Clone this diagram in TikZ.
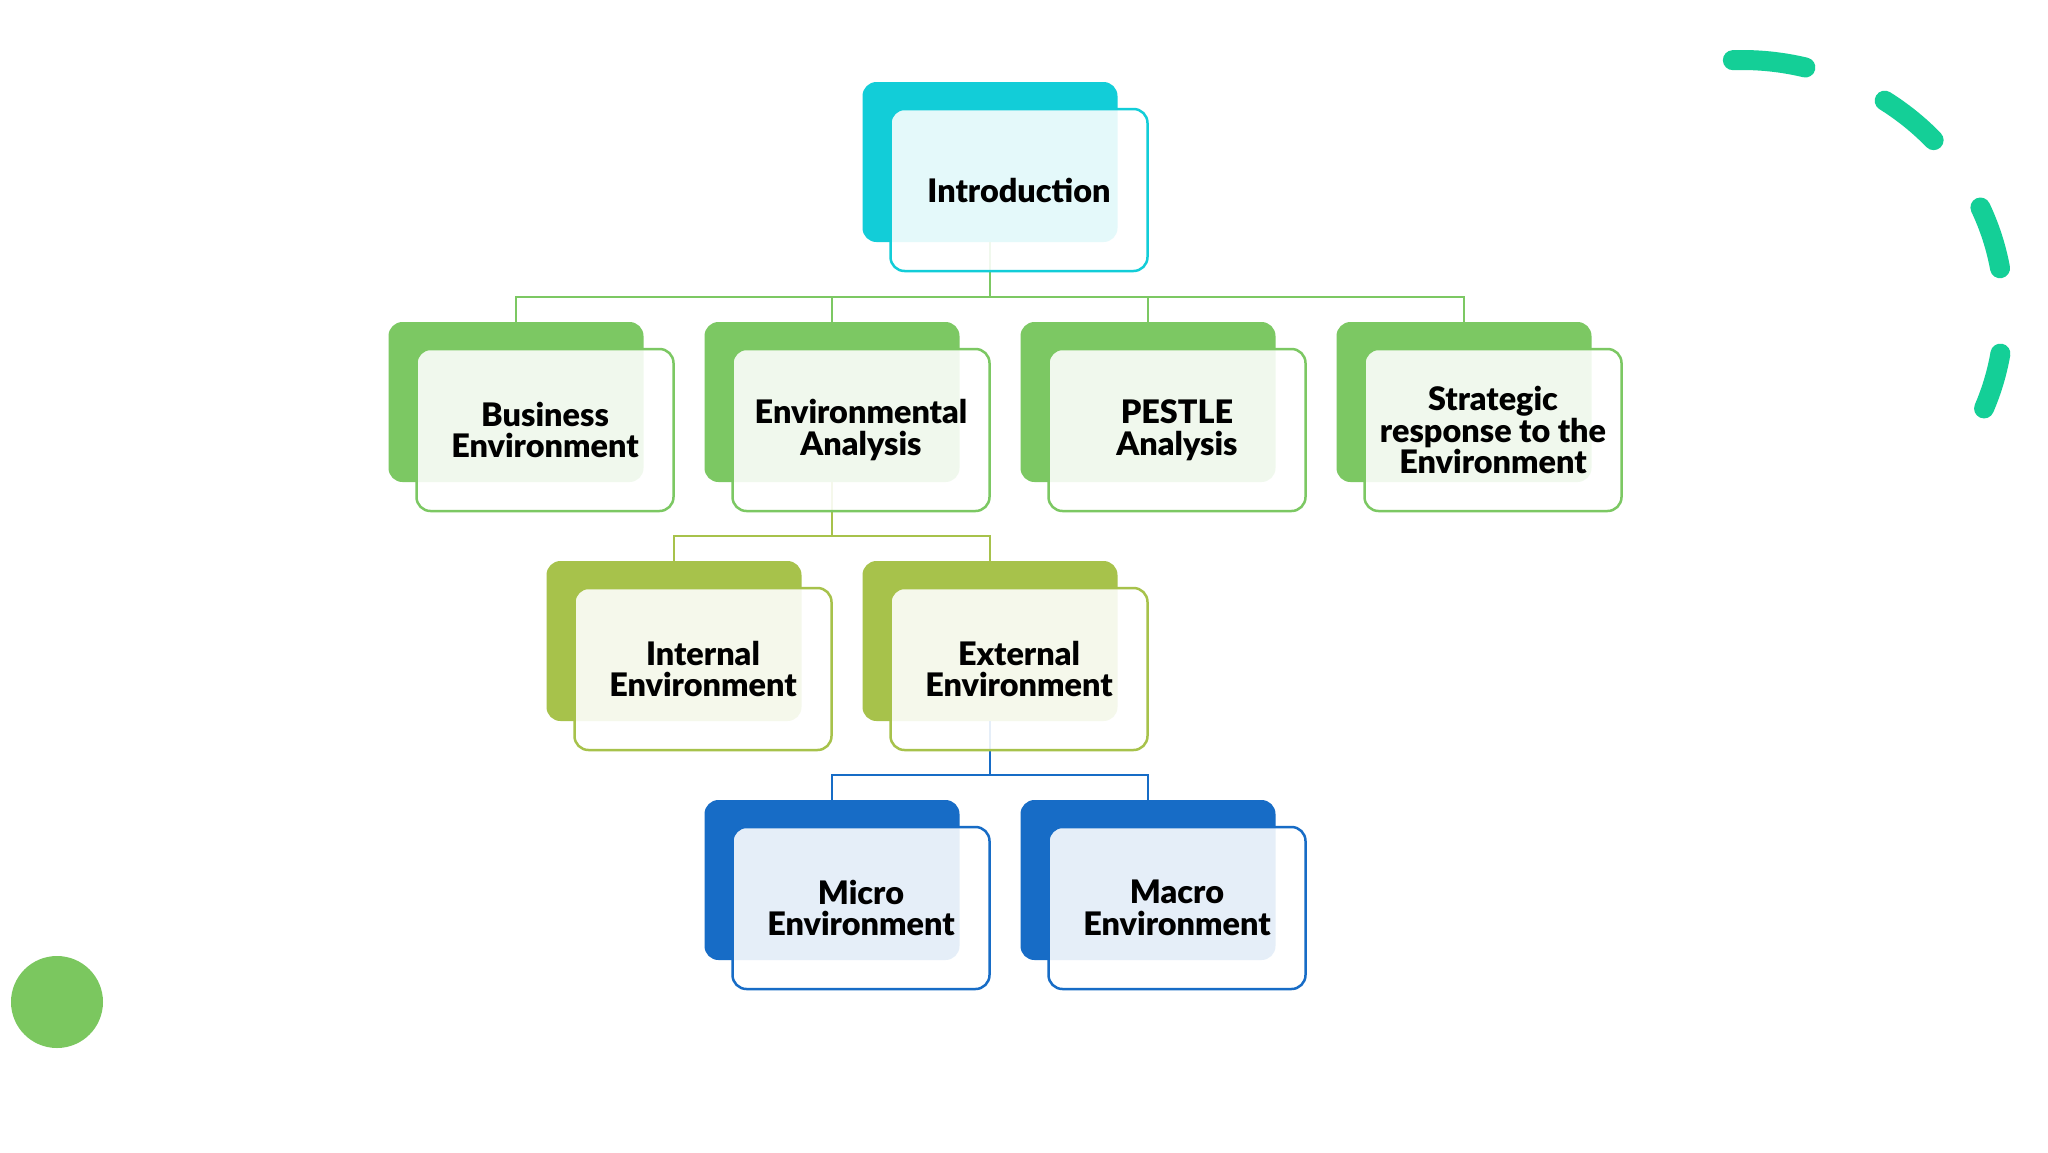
\documentclass[tikz,border=0pt]{standalone}
\usepackage{fontspec}
\setmainfont{Lato}[BoldFont={Lato Black}]
\definecolor{cyanC}{HTML}{12CDD8}
\definecolor{greenC}{HTML}{7CC863}
\definecolor{oliveC}{HTML}{A7C24B}
\definecolor{blueC}{HTML}{176CC6}
\definecolor{tealC}{HTML}{14CF97}
\definecolor{dotC}{HTML}{7BC75F}
\tikzset{
  backbox/.style={rectangle, rounded corners=14bp, minimum width=255bp, minimum height=160bp, inner sep=0pt, draw=none},
  frontbox/.style={rectangle, rounded corners=14bp, minimum width=257bp, minimum height=162bp, inner sep=0pt,
     fill=white, fill opacity=0.89, text opacity=1, line width=2.5bp, align=center,
     font=\fontsize{32.5}{32}\selectfont\bfseries, text=black},
  conn/.style={line width=2.6bp},
  dashseg/.style={line width=20bp, line cap=round, color=tealC}
}
\begin{document}
\begin{tikzpicture}[x=1bp, y=-1bp]
\fill[white] (0,0) rectangle (2048,1152);
\useasboundingbox (0,0) rectangle (2048,1152);

% decorations
\fill[dotC] (57,1002) circle[radius=46];
\draw[dashseg] (1742,312) ++(-92:262 and 252) arc[start angle=-92, end angle=-76, x radius=262, y radius=252];
\draw[dashseg] (1742,312) ++(-57:262 and 252) arc[start angle=-57, end angle=-43, x radius=262, y radius=252];
\draw[dashseg] (1742,312) ++(-24.5:262 and 252) arc[start angle=-24.5, end angle=-10, x radius=262, y radius=252];
\draw[dashseg] (1742,312) ++(9.5:262 and 252) arc[start angle=9.5, end angle=22.5, x radius=262, y radius=252];

% back boxes
\node[backbox, fill=cyanC]  (introB)  at (990, 162) {};
\node[backbox, fill=greenC] (bizB)    at (516, 402) {};
\node[backbox, fill=greenC] (envB)    at (832, 402) {};
\node[backbox, fill=greenC] (pestB)   at (1148, 402) {};
\node[backbox, fill=greenC] (stratB)  at (1464, 402) {};
\node[backbox, fill=oliveC] (intB)    at (674, 641) {};
\node[backbox, fill=oliveC] (extB)    at (990, 641) {};
\node[backbox, fill=blueC]  (micB)    at (832, 880) {};
\node[backbox, fill=blueC]  (macB)    at (1148, 880) {};

% bus coordinates
\coordinate (bus1) at (990, 297);
\coordinate (bus2) at (832, 536);
\coordinate (bus3) at (990, 775);

% connectors
\foreach \c in {bizB, envB, pestB, stratB}
  \draw[conn, greenC] (introB.south) |- (\c.north |- bus1) -- (\c.north);
\foreach \c in {intB, extB}
  \draw[conn, oliveC] (envB.south) |- (\c.north |- bus2) -- (\c.north);
\foreach \c in {micB, macB}
  \draw[conn, blueC] (extB.south) |- (\c.north |- bus3) -- (\c.north);

% front boxes
\node[frontbox, draw=cyanC]  (introF) at (1019, 190) {Introduction};
\node[frontbox, draw=greenC] (bizF)   at (545, 430) {Business\\Environment};
\node[frontbox, draw=greenC] (envF)   at (861, 430) {Environmental\\Analysis};
\node[frontbox, draw=greenC] (pestF)  at (1177, 430) {PESTLE\\Analysis};
\node[frontbox, draw=greenC] (stratF) at (1493, 430) {Strategic\\response to the\\Environment};
\node[frontbox, draw=oliveC] (intF)   at (703, 669) {Internal\\Environment};
\node[frontbox, draw=oliveC] (extF)   at (1019, 669) {External\\Environment};
\node[frontbox, draw=blueC]  (micF)   at (861, 908) {Micro\\Environment};
\node[frontbox, draw=blueC]  (macF)   at (1177, 908) {Macro\\Environment};
\end{tikzpicture}
\end{document}
